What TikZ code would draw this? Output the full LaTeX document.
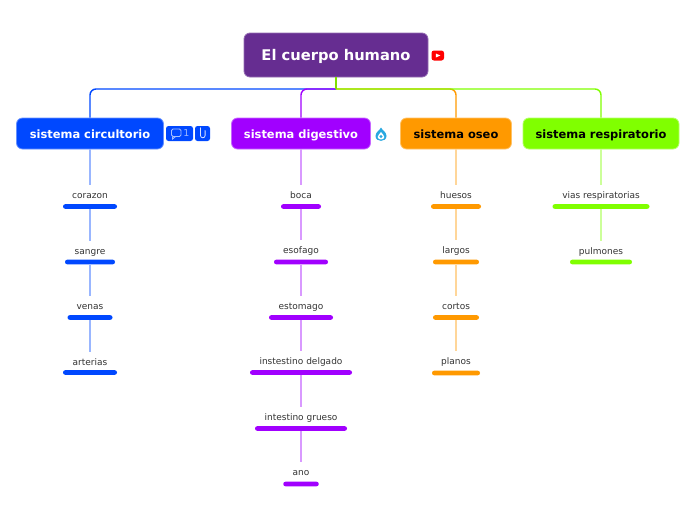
\documentclass[tikz,border=0pt]{standalone}
\usepackage{fontspec}
\setmainfont{DejaVu Sans}
\definecolor{cRoot}{HTML}{662D91}
\definecolor{cBlue}{HTML}{0048FF}
\definecolor{cPurple}{HTML}{A100FF}
\definecolor{cOrange}{HTML}{FF9900}
\definecolor{cGreen}{HTML}{80FF00}
\definecolor{cStem}{HTML}{7FE000}
\definecolor{cText}{HTML}{333333}
\definecolor{cDrop}{HTML}{29A8E0}
\tikzset{
  mainbox/.style={rectangle,rounded corners=6pt,inner sep=0pt,line width=0.8pt,font=\bfseries\fontsize{11.45}{14}\selectfont,text height=11.4pt,text depth=2.4pt},
  rootbox/.style={mainbox,fill=cRoot,draw=cRoot!70!white,text=white,font=\bfseries\fontsize{14.7}{17}\selectfont,text height=12.8pt,minimum width=184pt,minimum height=44pt},
  leaf/.style={inner sep=0pt,text=cText,font=\fontsize{9}{11}\selectfont,text height=9pt,text depth=2pt,minimum height=20pt},
  bar/.style={rectangle,rounded corners=2.2pt,inner sep=0pt,minimum height=4.6pt,fill=#1},
  bus/.style={rounded corners=6pt,line width=1.4pt,draw=#1},
  twig/.style={line width=1.1pt,draw=#1!40!white},
  badge/.style={rectangle,rounded corners=2.5pt,fill=cBlue,inner sep=0pt}
}
\begin{document}
\begin{tikzpicture}[x=1pt,y=-1pt]
\useasboundingbox (0,0) rectangle (696,520);
% main boxes
\node[rootbox] (root) at (336,55) {El cuerpo humano};
\node[mainbox,fill=cBlue,draw=cBlue!60!white,text=white,minimum width=147pt,minimum height=31pt] (circ) at (90,133.5) {sistema circultorio};
\node[mainbox,fill=cPurple,draw=cPurple!60!white,text=white,minimum width=139pt,minimum height=31pt] (dig) at (301,133.5) {sistema digestivo};
\node[mainbox,fill=cOrange,draw=cOrange!60!white,text=black,minimum width=111pt,minimum height=31pt] (ose) at (456,133.5) {sistema oseo};
\node[mainbox,fill=cGreen,draw=cGreen!60!white,text=black,minimum width=156pt,minimum height=31pt] (res) at (601,133.5) {sistema respiratorio};
% bus
\coordinate (hub) at (336,89);
\draw[bus=cBlue] (hub) -| (circ.north);
\draw[bus=cPurple] (hub) -| (dig.north);
\draw[bus=cOrange] (hub) -| (ose.north);
\draw[bus=cGreen] (hub) -| (res.north);
\draw[line width=1.4pt,draw=cStem] (root.south) -- (hub);
% circulatorio
\node[leaf] (c1) at (90,195) {corazon};
\node[bar=cBlue,minimum width=54pt] (c1b) at (90,206.5) {};
\node[leaf] (c2) at (90,251) {sangre};
\node[bar=cBlue,minimum width=50pt] (c2b) at (90,262) {};
\node[leaf] (c3) at (90,306) {venas};
\node[bar=cBlue,minimum width=45pt] (c3b) at (90,317.5) {};
\node[leaf] (c4) at (90,362) {arterias};
\node[bar=cBlue,minimum width=54pt] (c4b) at (90,372.5) {};
\draw[twig=cBlue] (circ.south) -- (c1.north);
\draw[twig=cBlue] (c1b.south) -- (c2.north);
\draw[twig=cBlue] (c2b.south) -- (c3.north);
\draw[twig=cBlue] (c3b.south) -- (c4.north);
% digestivo
\node[leaf] (d1) at (301,195) {boca};
\node[bar=cPurple,minimum width=40pt] (d1b) at (301,206.5) {};
\node[leaf] (d2) at (301,250) {esofago};
\node[bar=cPurple,minimum width=54pt] (d2b) at (301,262) {};
\node[leaf] (d3) at (301,306) {estomago};
\node[bar=cPurple,minimum width=64pt] (d3b) at (301,317.5) {};
\node[leaf] (d4) at (301,361) {instestino delgado};
\node[bar=cPurple,minimum width=102pt] (d4b) at (301,372.5) {};
\node[leaf] (d5) at (301,417) {intestino grueso};
\node[bar=cPurple,minimum width=92pt] (d5b) at (301,428.5) {};
\node[leaf] (d6) at (301,472) {ano};
\node[bar=cPurple,minimum width=35.5pt] (d6b) at (301,484) {};
\draw[twig=cPurple] (dig.south) -- (d1.north);
\draw[twig=cPurple] (d1b.south) -- (d2.north);
\draw[twig=cPurple] (d2b.south) -- (d3.north);
\draw[twig=cPurple] (d3b.south) -- (d4.north);
\draw[twig=cPurple] (d4b.south) -- (d5.north);
\draw[twig=cPurple] (d5b.south) -- (d6.north);
% oseo
\node[leaf] (o1) at (456,195) {huesos};
\node[bar=cOrange,minimum width=50pt] (o1b) at (456,206.5) {};
\node[leaf] (o2) at (456,250) {largos};
\node[bar=cOrange,minimum width=46pt] (o2b) at (456,262) {};
\node[leaf] (o3) at (456,306) {cortos};
\node[bar=cOrange,minimum width=46pt] (o3b) at (456,317.5) {};
\node[leaf] (o4) at (456,361) {planos};
\node[bar=cOrange,minimum width=48pt] (o4b) at (456,373) {};
\draw[twig=cOrange] (ose.south) -- (o1.north);
\draw[twig=cOrange] (o1b.south) -- (o2.north);
\draw[twig=cOrange] (o2b.south) -- (o3.north);
\draw[twig=cOrange] (o3b.south) -- (o4.north);
% respiratorio
\node[leaf] (r1) at (601,195) {vias respiratorias};
\node[bar=cGreen,minimum width=97pt] (r1b) at (601,206.5) {};
\node[leaf] (r2) at (601,251) {pulmones};
\node[bar=cGreen,minimum width=62pt] (r2b) at (601,262) {};
\draw[twig=cGreen] (res.south) -- (r1.north);
\draw[twig=cGreen] (r1b.south) -- (r2.north);
% youtube icon
\fill[red,rounded corners=2.5pt] (431.5,50.5) rectangle (444,60.5);
\fill[white] (435.8,53.5) -- (440.3,55.5) -- (435.8,57.5) -- cycle;
% comment badge
\node[badge,minimum width=27pt,minimum height=15pt] (cm) at (179.5,133.5) {};
\draw[white!65!cBlue,line width=0.9pt,rounded corners=1.5pt] (171.5,129) rectangle (181,136.5);
\draw[white!65!cBlue,line width=0.9pt] (172.5,136.5) -- (172.5,139) -- (175.5,136.5);
\node[inner sep=0pt,text=white!60!cBlue,font=\fontsize{9.5}{11}\selectfont] (cmn) at (186.5,133.5) {1};
% clip badge
\node[badge,minimum width=15pt,minimum height=15pt] (cl) at (202.5,133.5) {};
\draw[white!85!cBlue,line width=0.8pt,line cap=round] (200.5,127.8) -- (200.5,135.5) arc[start angle=180,end angle=360,radius=2.3pt] -- (205.1,130.5);
% drupal drop
\fill[cDrop] (381,127.5) .. controls (382,130) and (386.5,132) .. (386.5,136) .. controls (386.5,142.5) and (375.5,142.5) .. (375.5,136) .. controls (375.5,132) and (380,130) .. (381,127.5) -- cycle;
\fill[white] (381,132) .. controls (382,134) and (384.3,135) .. (384.3,137) .. controls (384.3,140.3) and (377.7,140.3) .. (377.7,137) .. controls (377.7,135) and (380,134) .. (381,132) -- cycle;
\fill[cDrop] (381,136.5) circle[radius=1.6pt];
\end{tikzpicture}
\end{document}
